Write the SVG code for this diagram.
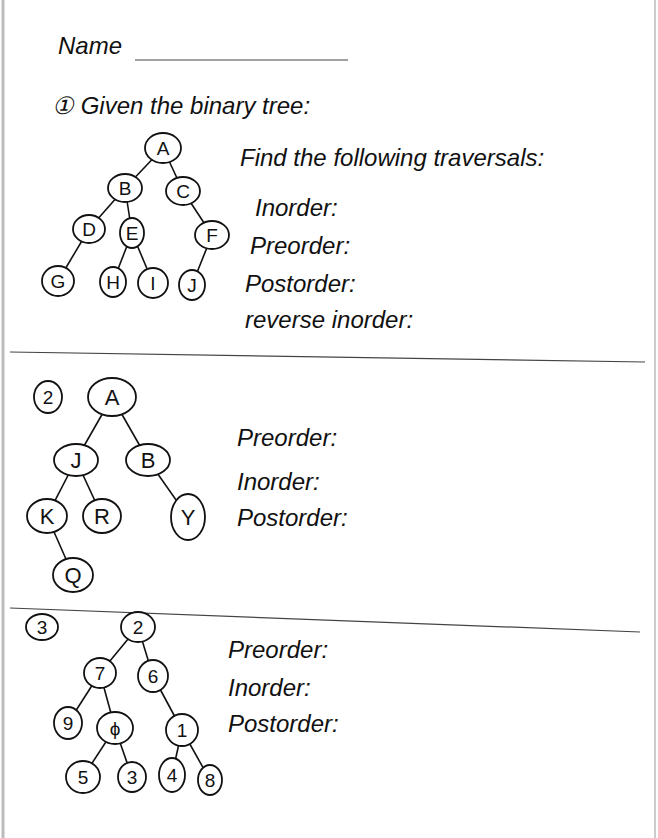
<svg xmlns="http://www.w3.org/2000/svg" width="658" height="838" viewBox="0 0 658 838">
<style>
.n ellipse{fill:#fff;stroke:#111;stroke-width:1.8}
.n text{font-family:"Liberation Sans",sans-serif;font-size:19px;text-anchor:middle;dominant-baseline:central;fill:#111}
.e line{stroke:#111;stroke-width:1.6}
.t{font-family:"Liberation Sans",sans-serif;font-size:24px;font-style:italic;fill:#111}
.rule{stroke:#444;stroke-width:1.2}
</style>
<rect width="658" height="838" fill="#fff"/>
<line x1="3" y1="0" x2="3" y2="838" stroke="#bbb" stroke-width="3"/>
<line x1="655" y1="0" x2="655" y2="838" stroke="#ccc" stroke-width="2"/>
<text class="t" x="58" y="54">Name</text>
<line class="rule" x1="135" y1="60" x2="348" y2="60"/>
<text class="t" x="52" y="114">① Given the binary tree:</text>
<text class="t" x="240" y="166">Find the following traversals:</text>
<text class="t" x="255" y="216">Inorder:</text>
<text class="t" x="250" y="254">Preorder:</text>
<text class="t" x="245" y="292">Postorder:</text>
<text class="t" x="245" y="328">reverse inorder:</text>
<line class="rule" x1="10" y1="352" x2="645" y2="362"/>
<text class="t" x="237" y="446">Preorder:</text>
<text class="t" x="237" y="490">Inorder:</text>
<text class="t" x="237" y="526">Postorder:</text>
<line class="rule" x1="10" y1="608" x2="640" y2="632"/>
<text class="t" x="228" y="658">Preorder:</text>
<text class="t" x="228" y="696">Inorder:</text>
<text class="t" x="228" y="732">Postorder:</text>
<g id="connectors" class="e">
<line x1="163" y1="148" x2="125" y2="188"/><line x1="163" y1="148" x2="183" y2="191"/>
<line x1="125" y1="188" x2="89" y2="229"/><line x1="125" y1="188" x2="132" y2="233"/>
<line x1="183" y1="191" x2="212" y2="235"/><line x1="89" y1="229" x2="58" y2="281"/>
<line x1="132" y1="233" x2="113" y2="282"/><line x1="132" y1="233" x2="153" y2="283"/>
<line x1="212" y1="235" x2="192" y2="285"/>
<line x1="112" y1="397" x2="76" y2="460"/><line x1="112" y1="397" x2="148" y2="460"/>
<line x1="76" y1="460" x2="47" y2="516"/><line x1="76" y1="460" x2="102" y2="516"/>
<line x1="148" y1="460" x2="188" y2="517"/><line x1="47" y1="516" x2="73" y2="575"/>
<line x1="138" y1="627" x2="100" y2="673"/><line x1="138" y1="627" x2="153" y2="676"/>
<line x1="100" y1="673" x2="68" y2="723"/><line x1="100" y1="673" x2="115" y2="728"/>
<line x1="153" y1="676" x2="182" y2="730"/><line x1="115" y1="728" x2="83" y2="777"/>
<line x1="115" y1="728" x2="132" y2="777"/><line x1="182" y1="730" x2="172" y2="775"/>
<line x1="182" y1="730" x2="210" y2="780"/>
</g>
<g id="t1A" class="n"><ellipse cx="163" cy="148" rx="18" ry="15"/><text x="163" y="148">A</text></g>
<g id="t1B" class="n"><ellipse cx="125" cy="188" rx="17" ry="14"/><text x="125" y="188">B</text></g>
<g id="t1C" class="n"><ellipse cx="183" cy="191" rx="17" ry="14"/><text x="183" y="191">C</text></g>
<g id="t1D" class="n"><ellipse cx="89" cy="229" rx="16" ry="14"/><text x="89" y="229">D</text></g>
<g id="t1E" class="n"><ellipse cx="132" cy="233" rx="12" ry="15"/><text x="132" y="233">E</text></g>
<g id="t1F" class="n"><ellipse cx="212" cy="235" rx="17" ry="14"/><text x="212" y="235">F</text></g>
<g id="t1G" class="n"><ellipse cx="58" cy="281" rx="16" ry="15"/><text x="58" y="281">G</text></g>
<g id="t1H" class="n"><ellipse cx="113" cy="282" rx="13" ry="15"/><text x="113" y="282">H</text></g>
<g id="t1I" class="n"><ellipse cx="153" cy="283" rx="15" ry="15"/><text x="153" y="283">I</text></g>
<g id="t1J" class="n"><ellipse cx="192" cy="285" rx="13" ry="15"/><text x="192" y="285">J</text></g>
<g id="t2num" class="n"><ellipse cx="48" cy="397" rx="14" ry="16"/><text x="48" y="397">2</text></g>
<g id="t2A" class="n"><ellipse cx="112" cy="397" rx="24" ry="19"/><text x="112" y="397" style="font-size:22px">A</text></g>
<g id="t2J" class="n"><ellipse cx="76" cy="460" rx="22" ry="16"/><text x="76" y="460" style="font-size:22px">J</text></g>
<g id="t2B" class="n"><ellipse cx="148" cy="460" rx="22" ry="16"/><text x="148" y="460" style="font-size:22px">B</text></g>
<g id="t2K" class="n"><ellipse cx="47" cy="516" rx="20" ry="17"/><text x="47" y="516" style="font-size:22px">K</text></g>
<g id="t2R" class="n"><ellipse cx="102" cy="516" rx="19" ry="17"/><text x="102" y="516" style="font-size:22px">R</text></g>
<g id="t2Y" class="n"><ellipse cx="188" cy="517" rx="17" ry="23"/><text x="188" y="517" style="font-size:22px">Y</text></g>
<g id="t2Q" class="n"><ellipse cx="73" cy="575" rx="20" ry="17"/><text x="73" y="575" style="font-size:22px">Q</text></g>
<g id="t3num" class="n"><ellipse cx="42" cy="627" rx="16" ry="13"/><text x="42" y="627">3</text></g>
<g id="t3n2" class="n"><ellipse cx="138" cy="627" rx="17" ry="15"/><text x="138" y="627">2</text></g>
<g id="t3n7" class="n"><ellipse cx="100" cy="673" rx="16" ry="15"/><text x="100" y="673">7</text></g>
<g id="t3n6" class="n"><ellipse cx="153" cy="676" rx="15" ry="16"/><text x="153" y="676">6</text></g>
<g id="t3n9" class="n"><ellipse cx="68" cy="723" rx="14" ry="16"/><text x="68" y="723">9</text></g>
<g id="t3n0" class="n"><ellipse cx="115" cy="728" rx="18" ry="16"/><text x="115" y="728">ϕ</text></g>
<g id="t3n1" class="n"><ellipse cx="182" cy="730" rx="16" ry="16"/><text x="182" y="730">1</text></g>
<g id="t3n5" class="n"><ellipse cx="83" cy="777" rx="17" ry="16"/><text x="83" y="777">5</text></g>
<g id="t3n3" class="n"><ellipse cx="132" cy="777" rx="14" ry="15"/><text x="132" y="777">3</text></g>
<g id="t3n4" class="n"><ellipse cx="172" cy="775" rx="13" ry="17"/><text x="172" y="775">4</text></g>
<g id="t3n8" class="n"><ellipse cx="210" cy="780" rx="12" ry="15"/><text x="210" y="780">8</text></g>
</svg>
